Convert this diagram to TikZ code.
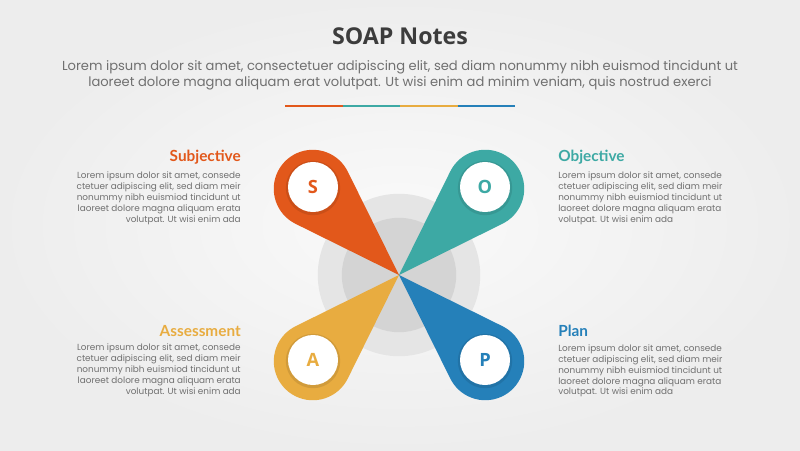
\documentclass[tikz,border=0pt]{standalone}
\usepackage{fontspec}
\setmainfont{Poppins}
\newfontfamily\titlefont{Open Sans}
\newfontfamily\headfont{Lato}
\usepackage{tikz}
\usetikzlibrary{positioning}
\definecolor{soapS}{HTML}{E2581B}
\definecolor{soapO}{HTML}{3DA9A4}
\definecolor{soapA}{HTML}{E8AC40}
\definecolor{soapP}{HTML}{2580B9}
\definecolor{bodygray}{HTML}{707070}
\definecolor{titlegray}{HTML}{3C3C3C}
\tikzstyle{heading} = [inner sep=0pt,
font=\headfont\bfseries\fontsize{10.9}{12}\selectfont]
\tikzstyle{bodyL} = [inner sep=0pt,
align=right,
text=bodygray,
font=\fontsize{6.3}{7.8}\selectfont]
\tikzstyle{bodyR} = [inner sep=0pt,
align=left,
text=bodygray,
font=\fontsize{6.3}{7.8}\selectfont]
\tikzstyle{letter} = [circle,
minimum size=1.25cm,
inner sep=0pt,
fill=white,
font=\titlefont\bfseries\fontsize{13}{15}\selectfont]

\begin{document}
\begin{tikzpicture}[x=0.025cm, y=0.025cm]
\useasboundingbox (0,0) rectangle (800,450);
\shade[inner color=white!98!black, outer color=white!93!black] (0,0) rectangle (800,450);

% title block
\node (title) [text=titlegray, font=\titlefont\bfseries\fontsize{16.5}{18}\selectfont] at (400,414) {SOAP Notes};
\node (sub) [align=center, text=bodygray, font=\fontsize{9.3}{11.3}\selectfont] at (400,375)
  {Lorem ipsum dolor sit amet, consectetuer adipiscing elit, sed diam nonummy nibh euismod tincidunt ut\\
   laoreet dolore magna aliquam erat volutpat. Ut wisi enim ad minim veniam, quis nostrud exerci};
\draw[soapS, line width=2.1pt] (285,344) -- (342.5,344);
\draw[soapO, line width=2.1pt] (342.5,344) -- (400,344);
\draw[soapA, line width=2.1pt] (400,344) -- (457.5,344);
\draw[soapP, line width=2.1pt] (457.5,344) -- (515,344);

% background discs
\fill[white!90!black] (399,175) circle (2.03cm);
\fill[white!83!black] (399,175) circle (1.43cm);

% petals
\begin{scope}[shift={(399,175)}, rotate=135]
\fill[soapS] (0,0) -- (109.5,37) arc[start angle=108.6, end angle=-108.6, radius=0.975cm] -- cycle;
\end{scope}
\begin{scope}[shift={(399,175)}, rotate=45]
\fill[soapO] (0,0) -- (109.5,37) arc[start angle=108.6, end angle=-108.6, radius=0.975cm] -- cycle;
\end{scope}
\begin{scope}[shift={(399,175)}, rotate=225]
\fill[soapA] (0,0) -- (109.5,37) arc[start angle=108.6, end angle=-108.6, radius=0.975cm] -- cycle;
\end{scope}
\begin{scope}[shift={(399,175)}, rotate=315]
\fill[soapP] (0,0) -- (109.5,37) arc[start angle=108.6, end angle=-108.6, radius=0.975cm] -- cycle;
\end{scope}

\fill[soapS!90!black] (313,262) circle (0.68cm);
\fill[soapO!90!black] (485,262) circle (0.68cm);
\fill[soapA!90!black] (313,89) circle (0.68cm);
\fill[soapP!90!black] (485,89) circle (0.68cm);
\node (s) [letter, text=soapS] at (313,263) {S};
\node (o) [letter, text=soapO] at (485,263) {O};
\node (a) [letter, text=soapA] at (313,90) {A};
\node (p) [letter, text=soapP] at (485,90) {P};

% side texts
\node (subj) [heading, text=soapS, anchor=east] at (241,293) {Subjective};
\node (subjtext) [bodyL, below left=5pt and 0pt of subj.south east]
  {Lorem ipsum dolor sit amet, consede\\ctetuer adipiscing elit, sed diam meir\\nonummy nibh euismiod tincidunt ut\\laoreet dolore magna aliquam erata\\volutpat. Ut wisi enim ada};
\node (obj) [heading, text=soapO, anchor=west] at (558,293) {Objective};
\node (objtext) [bodyR, below right=5pt and 0pt of obj.south west]
  {Lorem ipsum dolor sit amet, consede\\ctetuer adipiscing elit, sed diam meir\\nonummy nibh euismiod tincidunt ut\\laoreet dolore magna aliquam erata\\volutpat. Ut wisi enim ada};
\node (ass) [heading, text=soapA, anchor=east] at (241,119) {Assessment};
\node (asstext) [bodyL, below left=5pt and 0pt of ass.south east]
  {Lorem ipsum dolor sit amet, consede\\ctetuer adipiscing elit, sed diam meir\\nonummy nibh euismiod tincidunt ut\\laoreet dolore magna aliquam erata\\volutpat. Ut wisi enim ada};
\node (plan) [heading, text=soapP, anchor=west] at (558,119) {Plan};
\node (plantext) [bodyR, below right=5pt and 0pt of plan.south west]
  {Lorem ipsum dolor sit amet, consede\\ctetuer adipiscing elit, sed diam meir\\nonummy nibh euismiod tincidunt ut\\laoreet dolore magna aliquam erata\\volutpat. Ut wisi enim ada};
\end{tikzpicture}
\end{document}
